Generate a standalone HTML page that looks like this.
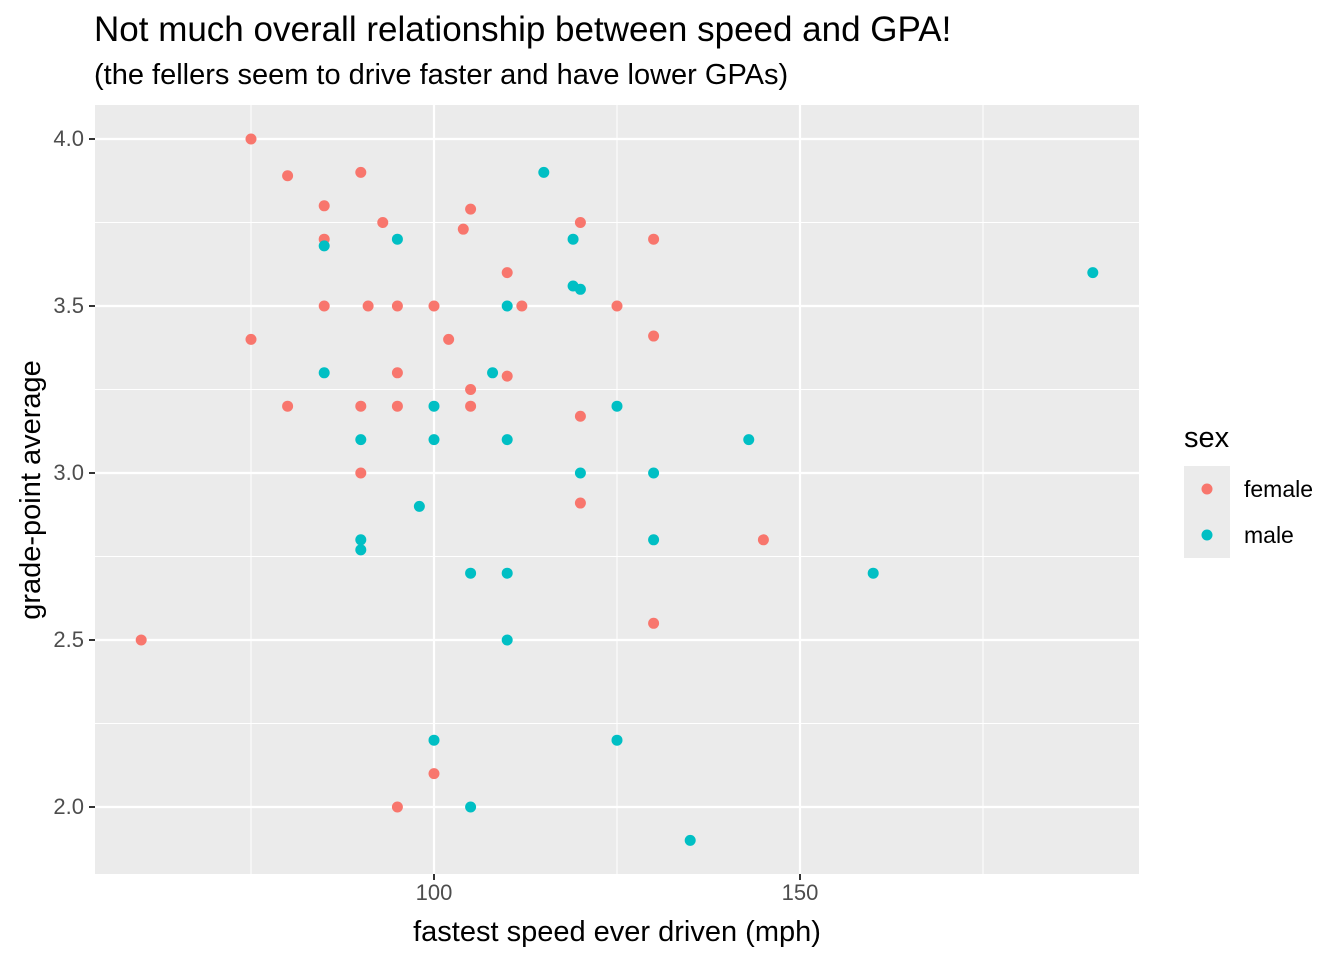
<!DOCTYPE html>
<html><head><meta charset="utf-8"><style>
html,body{margin:0;padding:0;background:#fff;}
svg text{font-family:"Liberation Sans",Arial,sans-serif;}
</style></head><body>
<svg id="chart" width="1344" height="960" xmlns="http://www.w3.org/2000/svg">
<text x="94" y="41" font-size="35" fill="#000">Not much overall relationship between speed and GPA!</text>
<text x="94" y="84" font-size="29" fill="#000">(the fellers seem to drive faster and have lower GPAs)</text>
<rect x="95" y="105" width="1044" height="769" fill="#EBEBEB"/>
<g id="grid"></g>
<g id="points"></g>
<g id="axes"></g>
<text x="617" y="941" font-size="29" text-anchor="middle">fastest speed ever driven (mph)</text>
<text transform="translate(40,490) rotate(-90)" font-size="29" text-anchor="middle">grade-point average</text>
<g>
<text x="1184" y="447" font-size="29">sex</text>
<rect x="1184" y="466" width="46" height="46" fill="#EBEBEB"/>
<circle cx="1207" cy="489" r="5.5" fill="#F8766D"/>
<text x="1244" y="497" font-size="23">female</text>
<rect x="1184" y="512" width="46" height="46" fill="#EBEBEB"/>
<circle cx="1207" cy="535" r="5.5" fill="#00BFC4"/>
<text x="1244" y="543" font-size="23">male</text>
</g>
</svg>
<script>
const femaleSpeed=[75,80,90,85,93,85,105,104,120,130,110,85,91,95,100,112,125,130,75,102,95,110,105,80,90,95,105,120,90,120,145,130,60,100,95];
const femaleGPA=[4.0,3.89,3.9,3.8,3.75,3.7,3.79,3.73,3.75,3.7,3.6,3.5,3.5,3.5,3.5,3.5,3.5,3.41,3.4,3.4,3.3,3.29,3.25,3.2,3.2,3.2,3.2,3.17,3.0,2.91,2.8,2.55,2.5,2.1,2.0];
const maleSpeed=[115,95,119,85,119,120,110,190,85,108,100,125,90,100,110,143,120,130,98,90,90,130,105,110,160,110,100,125,105,135];
const maleGPA=[3.9,3.7,3.7,3.68,3.56,3.55,3.5,3.6,3.3,3.3,3.2,3.2,3.1,3.1,3.1,3.1,3.0,3.0,2.9,2.8,2.77,2.8,2.7,2.7,2.7,2.5,2.2,2.2,2.0,1.9];
const xTicks=[100,150];
const xMinor=[75,125,175];
const yTicks=[2.0,2.5,3.0,3.5,4.0];
const yTickLabels=["2.0","2.5","3.0","3.5","4.0"];
const yMinor=[2.25,2.75,3.25,3.75];

const X=v=>434+(v-100)*7.32;
const Y=v=>139+(4-v)*334;
const NS="http://www.w3.org/2000/svg";
function mk(tag,attrs,parent){const e=document.createElementNS(NS,tag);for(const k in attrs)e.setAttribute(k,attrs[k]);parent.appendChild(e);return e;}
const grid=document.getElementById('grid'),pts=document.getElementById('points'),axes=document.getElementById('axes');
xMinor.forEach(v=>{const l=mk('line',{x1:X(v),x2:X(v),y1:105,y2:874,stroke:'#fff','stroke-width':1},grid);

});
yMinor.forEach(v=>{const l=mk('line',{x1:95,x2:1139,y1:Y(v),y2:Y(v),stroke:'#fff','stroke-width':1},grid);

});
xTicks.forEach(v=>{const l=mk('line',{x1:X(v),x2:X(v),y1:105,y2:874,stroke:'#fff','stroke-width':2.2},grid);


const t=mk('line',{x1:X(v),x2:X(v),y1:874,y2:880,stroke:'#333','stroke-width':2},axes);


const tx=mk('text',{x:X(v),y:900,'font-size':22,'text-anchor':'middle',fill:'#4D4D4D'},axes);tx.textContent=v;

});
yTicks.forEach((v,i)=>{const l=mk('line',{x1:95,x2:1139,y1:Y(v),y2:Y(v),stroke:'#fff','stroke-width':2.2},grid);


const t=mk('line',{x1:89,x2:95,y1:Y(v),y2:Y(v),stroke:'#333','stroke-width':2},axes);


const tx=mk('text',{x:84,y:Y(v)+7,'font-size':22,'text-anchor':'end',fill:'#4D4D4D'},axes);tx.textContent=yTickLabels[i];

});
femaleSpeed.forEach((s,i)=>{const c=mk('circle',{cx:X(s),cy:Y(femaleGPA[i]),r:5.5,fill:'#F8766D'},pts);

});
maleSpeed.forEach((s,i)=>{const c=mk('circle',{cx:X(s),cy:Y(maleGPA[i]),r:5.5,fill:'#00BFC4'},pts);

});
</script>
</body></html>
